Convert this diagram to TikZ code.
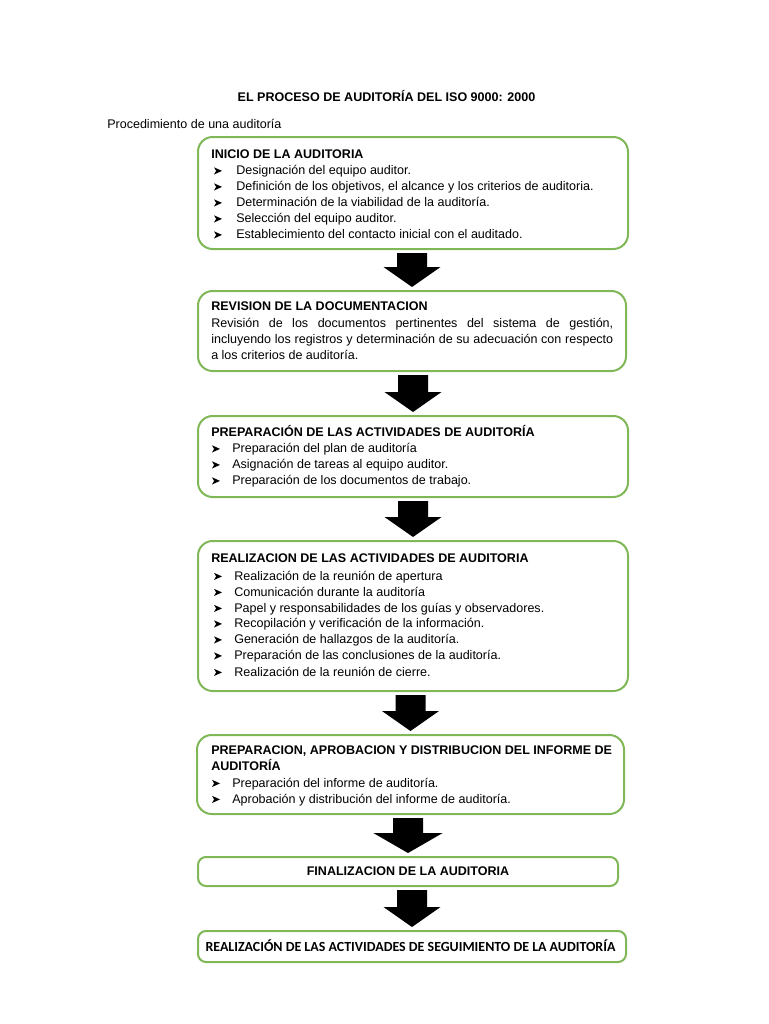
\documentclass[tikz,border=0pt]{standalone}
\usepackage{fontspec}
\setmainfont{Liberation Sans}
\newfontfamily\carlito{Carlito}
\usetikzlibrary{calc}
\definecolor{boxgreen}{RGB}{128,184,88}
\newcommand\bitem[4]{\node[txt] (#1) at (#2) {\hspace*{#3}#4};
  \fill[shift={(#1.base west)}] (0pt,0pt) -- (6pt,2.7pt) -- (0pt,5.4pt) -- (1.6pt,2.7pt) -- cycle;}
\newcommand\downconn[3][21.4pt]{%
  \fill[conn] let \p1=($(#2.south)+(0,3)$), \p2=($(#3.north)+(0,-3)$) in
  (\x2-11.25pt,\y1) -- (\x2+11.25pt,\y1) -- (\x2+11.25pt,\y2+15pt) --
  (\x2+#1,\y2+15pt) -- (\x2,\y2) -- (\x2-#1,\y2+15pt) --
  (\x2-11.25pt,\y2+15pt) -- cycle;}
\begin{document}
\begin{tikzpicture}[x=0.75pt,y=-0.75pt,
  box/.style={draw=boxgreen,line width=1.5pt,rounded corners=11pt,fill=white,inner sep=0pt},
  sbox/.style={box,rounded corners=6pt},
  txt/.style={anchor=base west,inner sep=0pt,font=\fontsize{9.4pt}{12pt}\selectfont},
  ttl/.style={txt,font=\fontsize{9.4pt}{12pt}\selectfont\bfseries},
  conn/.style={fill=black}]
\path[use as bounding box,fill=white] (0,0) rectangle (768,1024);

\node[ttl,anchor=base] (title) at (386.5,101.5) {EL PROCESO DE AUDITORÍA DEL ISO 9000: 2000};
\node[txt] (sub) at (107,128) {Procedimiento de una auditoría};

% boxes
\node[box,minimum width=322.5pt,minimum height=84pt] (b1) at (413,193) {};
\node[box,minimum width=321pt,minimum height=60pt] (b2) at (412,331) {};
\node[box,minimum width=322.5pt,minimum height=60.75pt] (b3) at (413,456.5) {};
\node[box,minimum width=322.5pt,minimum height=112.5pt] (b4) at (413,616) {};
\node[box,minimum width=320.25pt,minimum height=59.25pt] (b5) at (410.5,774.5) {};
\node[sbox,minimum width=315pt,minimum height=21.75pt] (b6) at (408,871.5) {};
\node[sbox,minimum width=321pt,minimum height=23.25pt] (b7) at (412,946.5) {};

% box 1
\node[ttl] (t1) at (211,158.5) {INICIO DE LA AUDITORIA};
\bitem{a1}{214,174.5}{16.5pt}{Designación del equipo auditor.}
\bitem{a2}{214,190.5}{16.5pt}{Definición de los objetivos, el alcance y los criterios de auditoria.}
\bitem{a3}{214,206.5}{16.5pt}{Determinación de la viabilidad de la auditoría.}
\bitem{a4}{214,222.5}{16.5pt}{Selección del equipo auditor.}
\bitem{a5}{214,238.5}{16.5pt}{Establecimiento del contacto inicial con el auditado.}

% box 2
\node[ttl] (t2) at (211,310.5) {REVISION DE LA DOCUMENTACION};
\node[txt] (r1) at (211,327) {\makebox[301.5pt][s]{Revisión de los documentos pertinentes del sistema de gestión,}};
\node[txt] (r2) at (211,343) {\makebox[301.5pt][s]{incluyendo los registros y determinación de su adecuación con respecto}};
\node[txt] (r3) at (211,359) {a los criterios de auditoría.};

% box 3
\node[ttl] (t3) at (211,436.5) {PREPARACIÓN DE LAS ACTIVIDADES DE AUDITORÍA};
\bitem{c1}{212,452.5}{15pt}{Preparación del plan de auditoría}
\bitem{c2}{212,468.5}{15pt}{Asignación de tareas al equipo auditor.}
\bitem{c3}{212,484.5}{15pt}{Preparación de los documentos de trabajo.}

% box 4
\node[ttl] (t4) at (211,562.5) {REALIZACION DE LAS ACTIVIDADES DE AUDITORIA};
\bitem{d1}{214,580}{15pt}{Realización de la reunión de apertura}
\bitem{d2}{214,596}{15pt}{Comunicación durante la auditoría}
\bitem{d3}{214,612}{15pt}{Papel y responsabilidades de los guías y observadores.}
\bitem{d4}{214,627.5}{15pt}{Recopilación y verificación de la información.}
\bitem{d5}{214,643.5}{15pt}{Generación de hallazgos de la auditoría.}
\bitem{d6}{214,659.5}{15pt}{Preparación de las conclusiones de la auditoría.}
\bitem{d7}{214,676}{15pt}{Realización de la reunión de cierre.}

% box 5
\node[ttl] (t5a) at (211,754.5) {PREPARACION, APROBACION Y DISTRIBUCION DEL INFORME DE};
\node[ttl] (t5b) at (211,770.5) {AUDITORÍA};
\bitem{e1}{212,787}{15pt}{Preparación del informe de auditoría.}
\bitem{e2}{212,803}{15pt}{Aprobación y distribución del informe de auditoría.}

% box 6, 7
\node[ttl,anchor=base] (t6) at (408,875.5) {FINALIZACION DE LA AUDITORIA};
\node[txt,anchor=base,font=\carlito\bfseries\fontsize{10.45pt}{12pt}\selectfont] (t7) at (410.5,951) {REALIZACIÓN DE LAS ACTIVIDADES DE SEGUIMIENTO DE LA AUDITORÍA};

% connectors
\downconn{b1}{b2}
\downconn{b2}{b3}
\downconn{b3}{b4}
\downconn{b4}{b5}
\downconn[26pt]{b5}{b6}
\downconn{b6}{b7}
\end{tikzpicture}
\end{document}
